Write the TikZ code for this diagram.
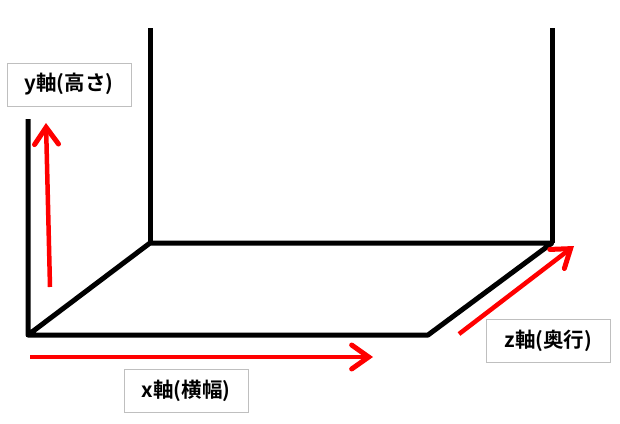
\documentclass[tikz,border=0pt]{standalone}
\usepackage{fontspec}
\newfontfamily\jpfont{Noto Sans CJK JP Bold}
\usetikzlibrary{arrows.meta}

\tikzset{
  edge/.style={line width=5pt, line join=round, black},
  axis/.style={line width=4.5pt, red, -{Straight Barb[length=17pt, width=24pt, line width=5pt, line cap=round]}},
  label/.style={draw=black!25, line width=1pt, fill=white, minimum width=124pt, minimum height=43pt, inner sep=0pt, font=\jpfont\fontsize{20.5}{24}\selectfont}
}

\begin{document}
\begin{tikzpicture}[x=1pt,y=1pt,yscale=-1,xscale=1]
\useasboundingbox (0,0) rectangle (620,423);

%Corners of the box
\coordinate (fl) at (28,335);
\coordinate (fr) at (428,335);
\coordinate (bl) at (150,243);
\coordinate (br) at (552,243);
\coordinate (tl) at (150,28);
\coordinate (tr) at (552,28);
\coordinate (ftop) at (28,119);

%Straight Lines
\draw [edge] (ftop) -- (fl) -- (fr) -- (br) -- (bl) -- (fl);
\draw [edge] (bl) -- (tl);
\draw [edge] (br) -- (tr);

%Axis arrows
\coordinate (ys) at (50,287);
\coordinate (ye) at (46,123);
\coordinate (xs) at (30,357);
\coordinate (xe) at (373,357);
\coordinate (zs) at (459,334);
\coordinate (ze) at (574,246);
\draw [axis] (ys) -- (ye);
\draw [axis] (xs) -- (xe);
\draw [axis] (zs) -- (ze);

% Text Node
\node [label] (ylab) at (69,84.5) {y軸(高さ)};
% Text Node
\node [label] (xlab) at (186,390.5) {x軸(横幅)};
% Text Node
\node [label] (zlab) at (548.5,340.5) {z軸(奥行)};

\end{tikzpicture}
\end{document}
